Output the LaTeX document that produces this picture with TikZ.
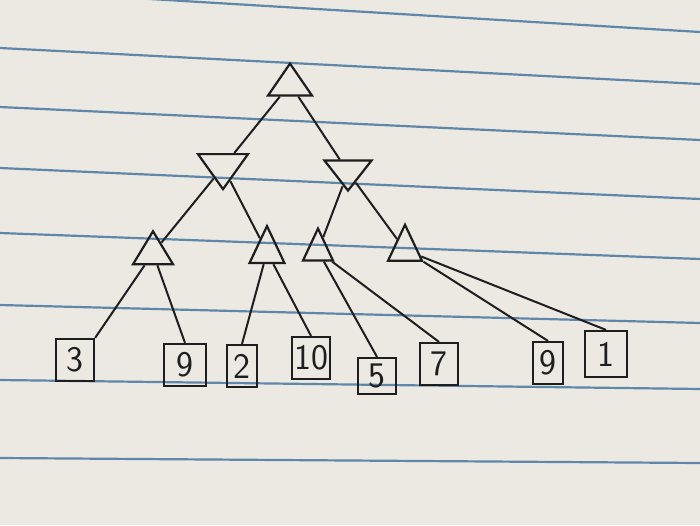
\documentclass[tikz,border=0pt]{standalone}
\usepackage{tikz}
\usetikzlibrary{shapes.geometric, positioning}
\usepackage{xcolor}
\definecolor{paper}{RGB}{236,233,226}
\definecolor{rule}{RGB}{95,135,170}
\definecolor{ink}{RGB}{30,30,30}

\begin{document}
\begin{tikzpicture}[
    x=1pt, y=-1pt,
    maxnode/.style={isosceles triangle, isosceles triangle stretches, shape border rotate=90,
        draw=ink, line width=2.2pt, inner sep=0pt},
    minnode/.style={isosceles triangle, isosceles triangle stretches, shape border rotate=270,
        draw=ink, line width=2.2pt, inner sep=0pt},
    leaf/.style={rectangle, draw=ink, line width=2.2pt, minimum width=38pt, minimum height=42pt,
        inner sep=0pt, text=ink, font=\sffamily\fontsize{36}{36}\selectfont},
    edge/.style={draw=ink, line width=2pt}
]

% Paper
\fill[paper] (0,0) rectangle (700,525);
\useasboundingbox (0,0) rectangle (700,525);
\foreach \ya/\yb in {-10/32, 48/84, 107/140, 168/199, 233/259, 305/323, 380/389, 458/463}
    \draw[rule, line width=2.2pt] (0,\ya) -- (700,\yb);

% Max and min levels
\node[maxnode, minimum width=44pt, minimum height=32pt] (root) at (290,84) {};
\node[minnode, minimum width=50pt, minimum height=35pt] (minL) at (223,167) {};
\node[minnode, minimum width=47pt, minimum height=30pt] (minR) at (348,172) {};
\node[maxnode, minimum width=40pt, minimum height=33pt] (maxA) at (153,253) {};
\node[maxnode, minimum width=35pt, minimum height=37pt] (maxB) at (267,252) {};
\node[maxnode, minimum width=30pt, minimum height=32pt] (maxC) at (318,251) {};
\node[maxnode, minimum width=34pt, minimum height=36pt] (maxD) at (405,250) {};

% Leaves
\node[leaf] (l3) at (75,360) {3};
\node[leaf, minimum width=42pt] (l9a) at (185,365) {9};
\node[leaf, minimum width=30pt] (l2) at (242,366) {2};
\node[leaf] (l10) at (311,358) {10};
\node[leaf, minimum height=36pt] (l5) at (377,376) {5};
\node[leaf] (l7) at (439,364) {7};
\node[leaf, minimum width=30pt] (l9b) at (548,363) {9};
\node[leaf, minimum width=42pt, minimum height=46pt] (l1) at (606,354) {1};

% Connections
\draw[edge] (root) -- (minL);
\draw[edge] (root) -- (minR);
\draw[edge] (minL) -- (maxA);
\draw[edge] (minL) -- (maxB);
\draw[edge] (minR) -- (maxC);
\draw[edge] (minR) -- (maxD);
\draw[edge] (maxA) -- (l3.north east);
\draw[edge] (maxA) -- (l9a.north);
\draw[edge] (maxB) -- (l2.north);
\draw[edge] (maxB) -- (l10.north);
\draw[edge] (maxC) -- (l5.north);
\draw[edge] (maxC) -- (l7.north);
\draw[edge] (maxD) -- (l9b.north);
\draw[edge] (maxD) -- (l1.north);

\end{tikzpicture}
\end{document}
